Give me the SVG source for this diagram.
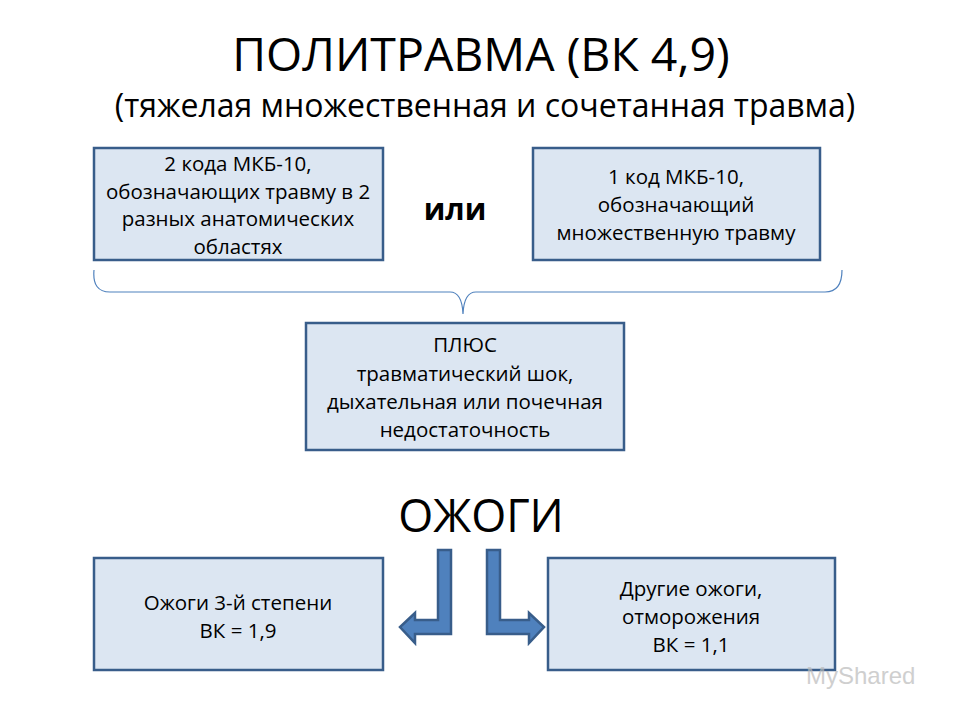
<svg xmlns="http://www.w3.org/2000/svg" width="960" height="720" viewBox="0 0 960 720">
<style>
.box{fill:#dce6f2;stroke:#385d8a;stroke-width:2.5}
.t{font-family:"Open Sans","Liberation Sans",sans-serif;font-size:20.5px;fill:#000;text-anchor:middle}
.arr{fill:#4f81bd;stroke:#385d8a;stroke-width:2.5}
</style>
<rect width="960" height="720" fill="#fff"/>
<text x="481" y="71" class="t" style="font-size:46.5px">ПОЛИТРАВМА (ВК 4,9)</text>
<text x="485" y="117" class="t" style="font-size:32px">(тяжелая множественная и сочетанная травма)</text>
<g id="n1"><rect class="box" x="94" y="148" width="289" height="112"/>
<text class="t" x="238" y="171">2 кода МКБ-10,</text><text class="t" x="238" y="199">обозначающих травму в 2</text><text class="t" x="238" y="226">разных анатомических</text><text class="t" x="238" y="254">областях</text></g>
<text x="455" y="220" class="t" style="font-size:30px;font-weight:bold">или</text>
<g id="n2"><rect class="box" x="533" y="148" width="287" height="112"/>
<text class="t" x="676" y="184">1 код МКБ-10,</text><text class="t" x="676" y="212">обозначающий</text><text class="t" x="676" y="240">множественную травму</text></g>
<g id="connectors"><path d="M94 270 Q92 292 110 292 L450 292 Q462 292 463 314 Q464 292 476 292 L825 292 Q842 292 842 270" fill="none" stroke="#4f81bd" stroke-width="1.2"/>
<path class="arr" d="M438 550 L451 550 L451 634 L415 634 L415 643 L400 627 L415 613 L415 620 L438 620 Z"/>
<path class="arr" d="M487 550 L500 550 L500 620 L529 620 L529 613 L544 627 L529 643 L529 634 L487 634 Z"/></g>
<g id="n3"><rect class="box" x="306" y="323" width="318" height="127"/>
<text class="t" x="465" y="352">ПЛЮС</text><text class="t" x="465" y="381">травматический шок,</text><text class="t" x="465" y="409">дыхательная или почечная</text><text class="t" x="465" y="437">недостаточность</text></g>
<text x="481" y="532" class="t" style="font-size:45px">ОЖОГИ</text>
<g id="n4"><rect class="box" x="94" y="558" width="289" height="112"/>
<text class="t" x="238" y="610">Ожоги 3-й степени</text><text class="t" x="238" y="638">ВК = 1,9</text></g>
<g id="n5"><rect class="box" x="548" y="558" width="287" height="112"/>
<text class="t" x="691" y="596">Другие ожоги,</text><text class="t" x="691" y="624">отморожения</text><text class="t" x="691" y="652">ВК = 1,1</text></g>
<text x="806" y="684" style="font-family:'Liberation Sans',sans-serif;font-size:24px;fill:#bbb;opacity:0.7">MyShared</text>
</svg>
